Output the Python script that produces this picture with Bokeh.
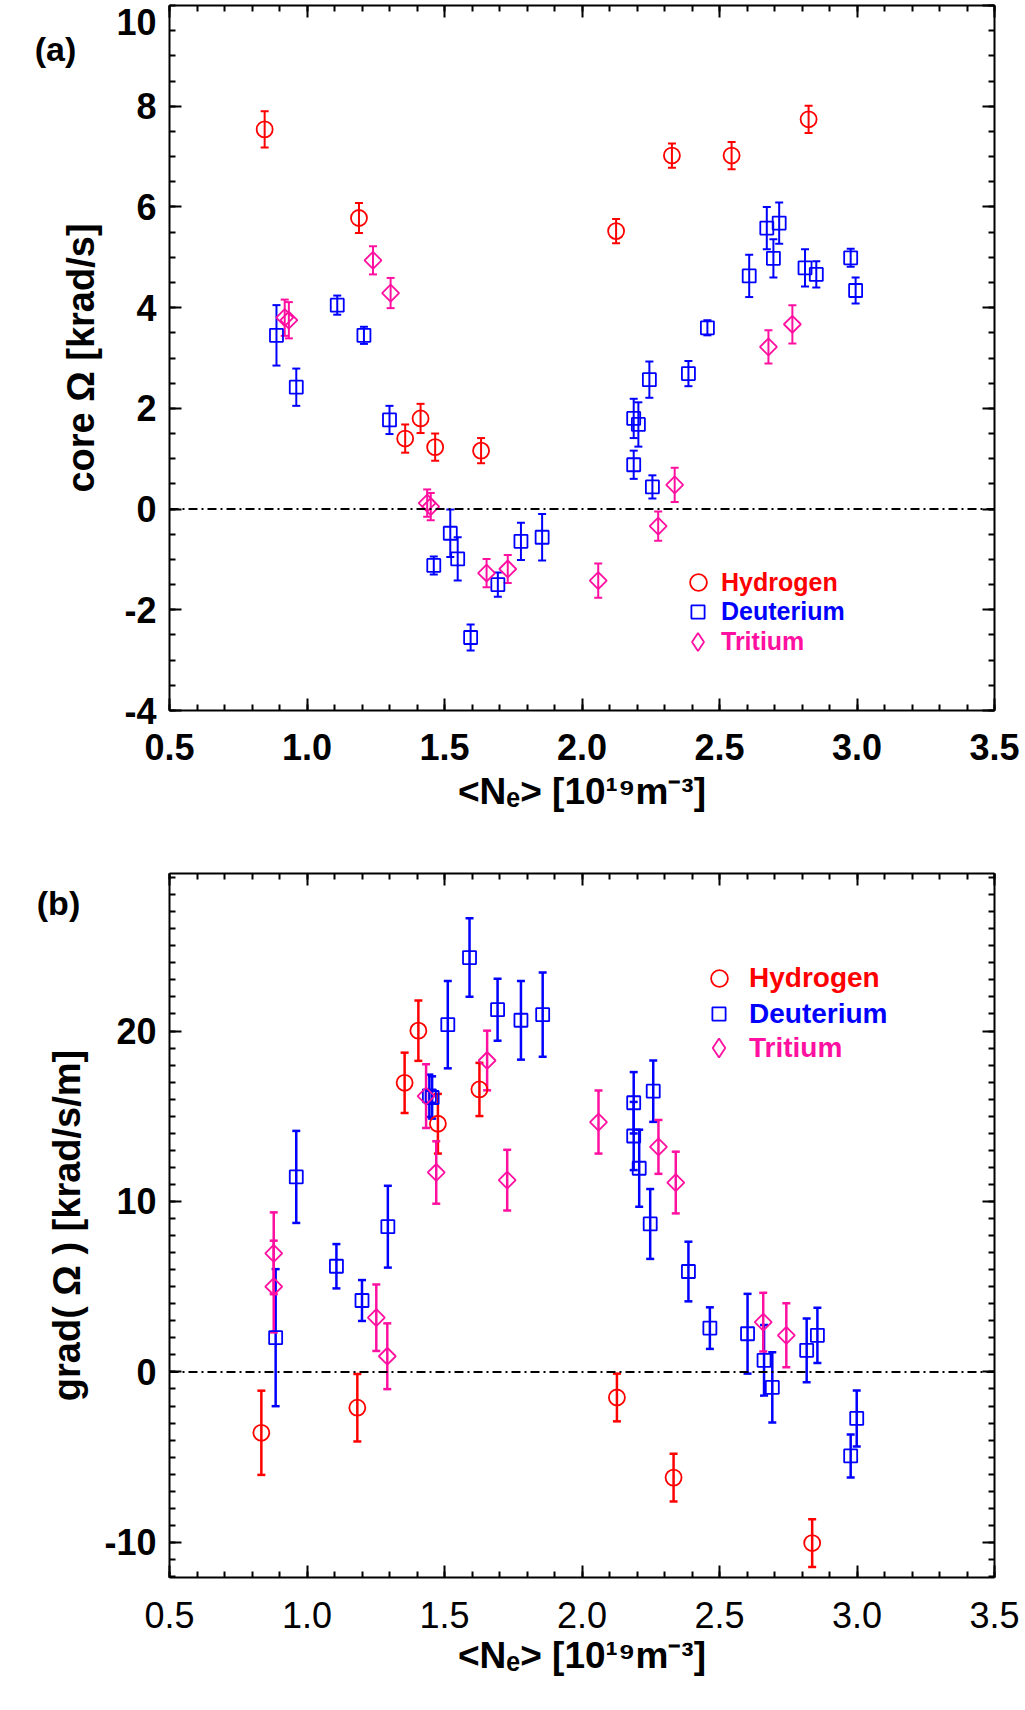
import numpy as np
from bokeh.plotting import figure
from bokeh.models import (Range1d, LinearAxis, SingleIntervalTicker, FixedTicker,
                          PrintfTickFormatter, CustomJSTickFormatter, ColumnDataSource,
                          Whisker, TeeHead, Span, Label, Legend, LegendItem)
from bokeh.layouts import column
from bokeh.embed import file_html
from bokeh.resources import INLINE

FONT = "Liberation Sans"
RED, BLUE, PINK = "#FF0000", "#0000FF", "#FF10A0"

# ---------------- (a) core rotation vs line-averaged density ----------------
a_h_ne = [0.846, 1.189, 1.357, 1.413, 1.466, 1.633, 2.124, 2.327, 2.544, 2.824]
a_h_om = [7.54, 5.78, 1.40, 1.80, 1.23, 1.16, 5.52, 7.02, 7.02, 7.74]
a_h_er = [0.36, 0.30, 0.28, 0.29, 0.27, 0.25, 0.24, 0.24, 0.27, 0.27]

a_d_ne = [0.889, 0.961, 1.110, 1.207, 1.300, 1.461, 1.521, 1.548, 1.595, 1.694,
          1.778, 1.855, 2.188, 2.205, 2.188, 2.245, 2.256, 2.387, 2.456, 2.608,
          2.672, 2.696, 2.717, 2.811, 2.852, 2.977, 2.995]
a_d_om = [3.45, 2.42, 4.05, 3.45, 1.77, -1.12, -0.48, -0.99, -2.55, -1.50,
          -0.64, -0.56, 1.80, 1.68, 0.88, 2.57, 0.44, 2.69, 3.60, 4.63,
          5.58, 4.98, 5.68, 4.79, 4.66, 4.99, 4.34]
a_d_er = [0.60, 0.37, 0.19, 0.17, 0.28, 0.18, 0.47, 0.43, 0.26, 0.24,
          0.37, 0.46, 0.39, 0.44, 0.28, 0.36, 0.23, 0.25, 0.15, 0.42,
          0.42, 0.38, 0.41, 0.37, 0.26, 0.18, 0.26]

a_t_ne = [0.919, 0.934, 1.240, 1.304, 1.437, 1.450, 1.653, 1.730, 2.059, 2.277,
          2.337, 2.678, 2.765]
a_t_om = [3.80, 3.75, 4.94, 4.29, 0.12, 0.05, -1.27, -1.19, -1.42, -0.34,
          0.48, 3.22, 3.67]
a_t_er = [0.36, 0.36, 0.28, 0.30, 0.27, 0.27, 0.28, 0.28, 0.34, 0.29,
          0.34, 0.33, 0.38]

# ---------------- (b) rotation gradient vs line-averaged density ----------------
b_h_ne = [0.834, 1.183, 1.355, 1.405, 1.476, 1.627, 2.127, 2.333, 2.837]
b_h_gr = [-3.57, -2.10, 16.96, 20.02, 14.56, 16.57, -1.50, -6.20, -10.04]
b_h_er = [2.47, 1.98, 1.77, 1.77, 1.75, 1.56, 1.40, 1.40, 1.40]

b_d_ne = [0.886, 0.961, 1.107, 1.200, 1.294, 1.445, 1.455, 1.512, 1.591, 1.693,
          1.778, 1.857, 2.188, 2.188, 2.208, 2.259, 2.248, 2.387, 2.465, 2.602,
          2.662, 2.692, 2.817, 2.856, 2.977, 2.999]
b_d_gr = [2.01, 11.44, 6.20, 4.19, 8.52, 16.20, 16.10, 20.37, 24.31, 21.25,
          20.63, 20.96, 15.79, 13.84, 11.95, 16.47, 8.68, 5.89, 2.57, 2.24,
          0.68, -0.91, 1.27, 2.15, -4.93, -2.73]
b_d_er = [4.02, 2.70, 1.30, 1.20, 2.40, 1.24, 1.24, 2.56, 2.30, 1.82,
          2.31, 2.47, 1.80, 2.00, 2.26, 1.80, 2.05, 1.75, 1.22, 2.34,
          2.07, 2.06, 1.87, 1.62, 1.26, 1.64]

b_t_ne = [0.879, 0.879, 1.252, 1.292, 1.433, 1.470, 1.655, 1.728, 2.060, 2.278,
          2.341, 2.659, 2.743]
b_t_gr = [6.96, 5.01, 3.18, 0.92, 16.18, 11.70, 18.27, 11.25, 14.66, 13.20,
          11.11, 2.92, 2.15]
b_t_er = [2.40, 2.69, 1.95, 1.93, 1.87, 1.83, 1.75, 1.78, 1.85, 1.58,
          1.81, 1.72, 1.88]

x_ticks_major = 0.5
species = ["Hydrogen", "Deuterium", "Tritium"]
x_title = "<Nₑ> [10¹⁹m⁻³]"


def style_axis(ax, ticker, fmt, size="36px", style="bold", standoff=13, labels=True):
    ax.ticker = ticker
    ax.axis_line_width = 2
    ax.axis_line_color = "black"
    ax.major_tick_in = 12
    ax.major_tick_out = 0
    ax.minor_tick_in = 6
    ax.minor_tick_out = 0
    ax.major_tick_line_width = 2
    ax.minor_tick_line_width = 2
    ax.major_tick_line_color = "black"
    ax.minor_tick_line_color = "black"
    if labels:
        ax.formatter = fmt
        ax.major_label_text_font = FONT
        ax.major_label_text_font_size = size
        ax.major_label_text_font_style = style
        ax.major_label_text_color = "black"
        ax.major_label_standoff = standoff
    else:
        ax.formatter = CustomJSTickFormatter(code="return ''")
        ax.major_label_text_font_size = "0px"
        ax.major_label_standoff = 0


def make_panel(ylim, height, top, bottom, y_ticker, y_interval, y_minor, ylabel,
               ylab_standoff, xlab_style, xlab_standoff, xtitle_standoff, series, leg):
    p = figure(width=1025, height=height, x_range=Range1d(0.5, 3.5),
               y_range=Range1d(*ylim), output_backend="svg", toolbar_location=None,
               min_border_left=168, min_border_right=31, min_border_top=top,
               min_border_bottom=bottom, background_fill_color="white",
               border_fill_color="white")
    p.outline_line_color = None
    p.xgrid.visible = False
    p.ygrid.visible = False

    xt = SingleIntervalTicker(interval=x_ticks_major, num_minor_ticks=5)
    style_axis(p.xaxis[0], xt, PrintfTickFormatter(format="%.1f"),
               style=xlab_style, standoff=xlab_standoff)
    style_axis(p.yaxis[0], y_ticker, PrintfTickFormatter(format="%d"))
    for ax, text, fs, so in ((p.yaxis[0], ylabel, "38px", ylab_standoff),
                             (p.xaxis[0], x_title, "37px", xtitle_standoff)):
        ax.axis_label = text
        ax.axis_label_text_font = FONT
        ax.axis_label_text_font_size = fs
        ax.axis_label_text_font_style = "bold"
        ax.axis_label_text_color = "black"
        ax.axis_label_standoff = so

    top_ax = LinearAxis()
    style_axis(top_ax, SingleIntervalTicker(interval=x_ticks_major, num_minor_ticks=5),
               None, labels=False)
    right_ax = LinearAxis()
    style_axis(right_ax, SingleIntervalTicker(interval=y_interval, num_minor_ticks=y_minor),
               None, labels=False)
    p.add_layout(top_ax, "above")
    p.add_layout(right_ax, "right")

    # zero reference line
    p.add_layout(Span(location=0, dimension="width", line_color="black",
                      line_width=2, line_dash="9 4 2 4"))

    renderers, sources = [], []
    for (ne, val, err, color, marker, size, angle, lw) in series:
        src = ColumnDataSource(dict(x=ne, y=val,
                                    lo=[v - e for v, e in zip(val, err)],
                                    hi=[v + e for v, e in zip(val, err)]))
        p.add_layout(Whisker(source=src, base="x", lower="lo", upper="hi",
                             dimension="height", line_color=color, line_width=lw,
                             upper_head=TeeHead(size=8, line_color=color, line_width=lw),
                             lower_head=TeeHead(size=8, line_color=color, line_width=lw)))
        r = p.scatter("x", "y", source=src, marker=marker, size=size, angle=angle,
                      fill_color=None, line_color=color, line_width=1.8)
        renderers.append(r)
        sources.append(src)

    # key symbol for tritium: a plain diamond, hidden from the plot area itself
    t_key = p.scatter("x", "y", source=sources[2], marker="diamond", fill_color=None,
                      line_color=PINK, line_width=1.8, visible=False)
    keys = [renderers[0], renderers[1], t_key]
    for name, color, rend, (loc, g, so, fs) in zip(species, [RED, BLUE, PINK], keys, leg):
        lg = Legend(items=[LegendItem(label=name, renderers=[rend])], location=loc,
                    glyph_width=g, glyph_height=g, label_standoff=so, padding=0,
                    margin=0, spacing=0, border_line_color=None,
                    background_fill_alpha=0, inactive_fill_alpha=0,
                    label_text_font=FONT, label_text_font_style="bold",
                    label_text_font_size=f"{fs}px", label_text_color=color)
        p.add_layout(lg)
    return p


def side_label(p, text, dx, dy, size, align, side):
    """Text anchored at the frame's top-left corner, kept in a side panel so
    that it is not clipped to the plotting area."""
    p.add_layout(Label(x=p.x_range.start, y=p.y_range.end, x_offset=dx, y_offset=dy,
                       text=text, text_font=FONT, text_font_size=f"{size}px",
                       text_font_style="bold", text_color="black",
                       text_align=align, text_baseline="middle"), side)


series_a = [
    (a_h_ne, a_h_om, a_h_er, RED, "circle", 16, 0.0, 2),
    (a_d_ne, a_d_om, a_d_er, BLUE, "square", 13, 0.0, 2),
    (a_t_ne, a_t_om, a_t_er, PINK, "square", 12, np.pi / 4, 2),
]
series_b = [
    (b_h_ne, b_h_gr, b_h_er, RED, "circle", 16, 0.0, 2.5),
    (b_d_ne, b_d_gr, b_d_er, BLUE, "square", 13, 0.0, 2.5),
    (b_t_ne, b_t_gr, b_t_er, PINK, "square", 12, np.pi / 4, 2.5),
]

leg_a = [((508, 107), 42, 2, 25), ((512, 82), 33, 7, 25), ((506, 46), 45, 1, 25)]
leg_b = [((529, 578), 42, 9, 28), ((533, 547), 33, 14, 28), ((526, 506), 47, 7, 28)]

# (a): labelled ticks stop at 8, the "10" is set just under the frame's top edge
yt_a = FixedTicker(ticks=[-4, -2, 0, 2, 4, 6, 8],
                   minor_ticks=[v / 2 for v in range(-8, 21)])
yt_b = FixedTicker(ticks=[-10, 0, 10, 20], minor_ticks=list(range(-12, 30)))

pa = make_panel((-4, 10), 868, 5, 158, yt_a, 2, 4, "core Ω [krad/s]", 19, "bold",
                23, 8, series_a, leg_a)
pb = make_panel((-12.06, 29.24), 842, 5, 133, yt_b, 10, 10,
                "grad( Ω ) [krad/s/m]", 13, "normal", 24, 4, series_b, leg_b)

side_label(pa, "10", -13, -16, 36, "right", "left")
side_label(pa, "(a)", -114, -43, 34, "center", "below")
side_label(pb, "(b)", -111, -29, 34, "center", "left")

layout = column(pa, pb, spacing=0)
open("out.html", "w").write(file_html(layout, INLINE))
